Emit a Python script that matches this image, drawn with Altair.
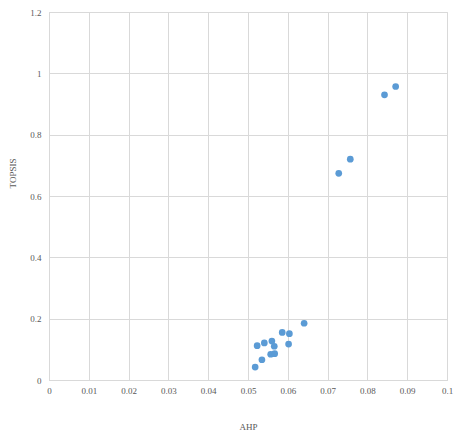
import altair as alt
import pandas as pd

ahp = [0.0641, 0.0586, 0.0604, 0.0560, 0.0541, 0.0523, 0.0566, 0.0602,
       0.0557, 0.0567, 0.0535, 0.0518, 0.0871, 0.0843, 0.0757, 0.0728]
topsis = [0.185, 0.155, 0.151, 0.127, 0.121, 0.112, 0.110, 0.117,
          0.084, 0.086, 0.066, 0.042, 0.957, 0.930, 0.720, 0.674]

df = pd.DataFrame({"AHP": ahp, "TOPSIS": topsis})

font = "Liberation Serif"
gray = "#595959"

chart = alt.Chart(df).mark_circle(size=45, color="#5B9BD5", opacity=1).encode(
    x=alt.X("AHP:Q", scale=alt.Scale(domain=[0, 0.1], nice=False),
            axis=alt.Axis(values=[0, 0.01, 0.02, 0.03, 0.04, 0.05, 0.06, 0.07, 0.08, 0.09, 0.1],
                          format="~g", title="AHP", titleY=46, titleBaseline="middle",
                          ticks=False, labelPadding=6, domainColor="#d9d9d9",
                          gridColor="#d9d9d9", labelFont=font, titleFont=font,
                          labelFontSize=9, titleFontSize=9, labelColor=gray, titleColor=gray,
                          titleFontWeight="normal", labelFlush=False)),
    y=alt.Y("TOPSIS:Q", scale=alt.Scale(domain=[0, 1.2], nice=False),
            axis=alt.Axis(values=[0, 0.2, 0.4, 0.6, 0.8, 1, 1.2], format="~g",
                          title="TOPSIS", titleX=-37, titleY=161, titleBaseline="middle",
                          ticks=False, labelPadding=8, domainColor="#d9d9d9",
                          gridColor="#d9d9d9", labelFont=font, titleFont=font,
                          labelFontSize=9, titleFontSize=9, labelColor=gray, titleColor=gray,
                          titleFontWeight="normal", labelFlush=False)),
).properties(
    width=398, height=368,
    autosize=alt.AutoSizeParams(type="none"),
    padding={"left": 41, "top": 4, "right": 10, "bottom": 56},
).configure_view(stroke=None).configure(background="white")

chart.save("out.html", embed_options={"renderer": "svg", "actions": False})
